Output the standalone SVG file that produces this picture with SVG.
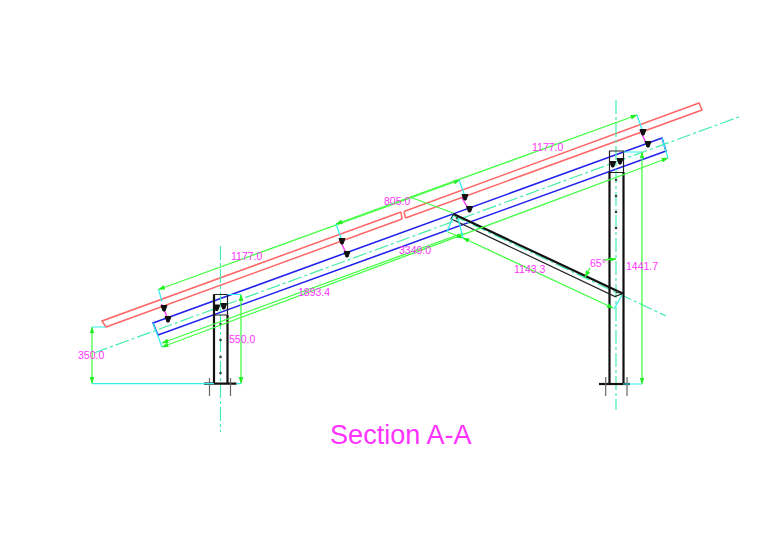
<svg xmlns="http://www.w3.org/2000/svg" width="768" height="543" viewBox="0 0 768 543">
<defs>
<style>
.r{fill:none;stroke:#f66;stroke-width:1.5}
.b{fill:none;stroke:#22e;stroke-width:1.6}
.g{fill:none;stroke:#4f4;stroke-width:1.3}
.c{fill:none;stroke:#3ee;stroke-width:1.2}
.m{fill:none;stroke:#f3f;stroke-width:1.4}
.t{fill:none;stroke:#4ea;stroke-width:1.2;stroke-dasharray:14 3 3 3}
.k{fill:none;stroke:#222;stroke-width:1.2}
.kt{fill:none;stroke:#111;stroke-width:2.2}
.gr{fill:none;stroke:#666;stroke-width:1.200}
.l{font-family:"Liberation Sans",Arial,sans-serif;font-size:10.500px;fill:#f3f}
.dot{fill:#444}
</style>
<marker id="a" viewBox="0 0 6 4" refX="5.500" refY="2" markerWidth="7" markerHeight="5" orient="auto-start-reverse" markerUnits="userSpaceOnUse"><path d="M0 0L6 2L0 4Z" fill="#2e2"/></marker>
<path id="cl" d="M-3-1.500L3-1.500L1 4L-1 4Z" stroke="#111" stroke-width="1" fill="#111"/>
</defs>
<rect width="768" height="543" fill="#fff"/>

<g id="rail-red">
<path class="r" d="M401 212L102 321L106 327L402 219M404 211.500L699 103L702 110L405.500 218M401 212L402 219M404 211.500L405.500 218"/>
</g>
<g id="purlin-blue">
<path class="b" d="M153 323L662 138L666 151L158 335Z"/>
</g>
<g id="centerlines">
<path class="t" d="M94 353L740 116.500"/>
<path class="t" d="M220.500 246V432"/>
<path class="t" d="M616 100V410"/>
<path class="t" d="M452 215L666 316"/>
</g>
<g id="post-left">
<path class="k" d="M214 294.500H227.500V315H214ZM214 315H227.500"/>
<path class="kt" d="M214 294.500V383.500M227.500 315V383.500"/>
<path class="kt" d="M204 383.700H236.500"/>
<path class="gr" d="M209.500 378V396M230.500 378V396"/>
<use href="#cl" x="216.700" y="306.500"/>
<use href="#cl" x="223.700" y="305"/>
<g class="dot"><circle cx="220.500" cy="324" r="1.300"/><circle cx="220.500" cy="340" r="1.300"/><circle cx="220.500" cy="357" r="1.300"/><circle cx="220.500" cy="373" r="1.300"/></g>
</g>
<g id="post-right">
<path class="k" d="M609.500 151H623.500V172.500H609.500ZM609.500 172.500H623.500"/>
<path class="kt" d="M609.500 172V384M623.500 172V384"/>
<path class="kt" d="M599 384H630"/>
<path class="gr" d="M605.700 377V396M627 377V396"/>
<use href="#cl" x="612.700" y="163"/>
<use href="#cl" x="620" y="160"/>
<g class="dot"><circle cx="616" cy="180" r="1.300"/><circle cx="616" cy="196" r="1.300"/><circle cx="616" cy="212" r="1.300"/><circle cx="616" cy="228" r="1.300"/></g>
</g>
<g id="brace">
<path class="kt" d="M453.500 214L622.700 293.500"/>
<path class="k" d="M453.500 220L615 296.500L622.700 293.500M453.500 214L451 219L453.500 220"/>
<circle class="dot" cx="457" cy="218" r="1.300"/>
<circle class="dot" cx="617" cy="292" r="1.300"/>
</g>
<g id="connectors">
<path class="g" d="M158.500 289.500L460 180" marker-start="url(#a)" marker-end="url(#a)"/>
<path class="g" d="M336 224L637 115" marker-start="url(#a)" marker-end="url(#a)"/>
<path class="g" d="M162 343L463 233" marker-start="url(#a)"/>
<path class="g" d="M162 347L668 158" marker-start="url(#a)" marker-end="url(#a)"/>
<path class="g" d="M410 197L453 213"/>
<path class="g" d="M448 232L463 238" marker-end="url(#a)"/>
<path class="g" d="M463 238L613 308" marker-start="url(#a)" marker-end="url(#a)"/>
<path class="g" d="M92 327V383.500" marker-start="url(#a)" marker-end="url(#a)"/>
<path class="g" d="M241 294.500V383.500" marker-start="url(#a)" marker-end="url(#a)"/>
<path class="g" d="M642 152V384" marker-start="url(#a)" marker-end="url(#a)"/>
<path class="g" d="M585 277L590 268M603 260L616 259" marker-start="url(#a)" marker-end="url(#a)"/>
<path class="c" d="M158.500 289.500L162 301.500M153 323L162 347M92 327H105.500M92 383.700H214M227.500 294.500H241M236.500 383.700H241"/>
<path class="c" d="M336 224L341.700 240M459 180L464.500 195M453 216.500L447 232M458 218L463 238"/>
<path class="c" d="M637 115L642.500 131M662 138L668 158M623.500 152H642M623 384H642M614 309L622 295"/>
<path class="m" d="M161.500 304L168 319M340.700 241.700L346.500 254M462 198L469 210M640 130L647 145"/>
</g>
<g id="clips">
<use href="#cl" x="164" y="307"/><use href="#cl" x="168" y="318"/>
<use href="#cl" x="342" y="240"/><use href="#cl" x="347" y="253"/>
<use href="#cl" x="465" y="196"/><use href="#cl" x="469.500" y="208"/>
<use href="#cl" x="643" y="131"/><use href="#cl" x="648" y="143"/>
</g>
<g id="labels">
<text class="l" x="231" y="260">1177.0</text>
<text class="l" x="532" y="151">1177.0</text>
<text class="l" x="384" y="205">805.0</text>
<text class="l" x="399" y="254">3349.0</text>
<text class="l" x="298" y="296">1893.4</text>
<text class="l" x="514" y="273">1143.3</text>
<text class="l" x="626" y="270">1441.7</text>
<text class="l" x="590" y="267">65°</text>
<text class="l" x="229" y="343">550.0</text>
<text class="l" x="78" y="359">350.0</text>
<text x="330" y="444" style="font-family:'Liberation Sans',Arial,sans-serif;font-size:27.100px;fill:#f3f">Section A-A</text>
</g>
</svg>
